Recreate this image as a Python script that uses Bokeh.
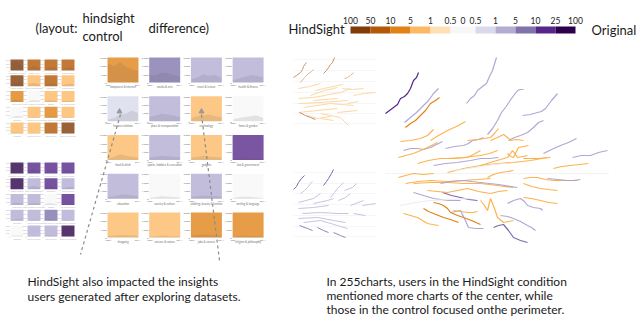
from bokeh.plotting import figure
from bokeh.models import Range1d
from bokeh.embed import file_html
from bokeh.resources import INLINE
from bokeh.core.properties import value

FONT = "Lato"
PUOR = ["#7f3b08", "#b35806", "#e08214", "#fdb863", "#fee0b6", "#f7f7f7",
        "#d8daeb", "#b2abd2", "#8073ac", "#542788", "#2d004b"]
legend_labels = ["100", "50", "10", "5", "1", "0.5", "0", "0.5", "1", "5", "10", "25", "100"]

categories = ["computers & internet", "media & arts", "travel & leisure", "health & fitness",
              "human relations", "place & transportation", "technology", "home & garden",
              "food & drink", "sports, hobbies & recreation", "gadgets", "law & government",
              "education", "society & culture", "clothing, beauty & fashion", "writing & language",
              "shopping", "science & nature", "jobs & careers", "religion & philosophy"]
diff_levels = [2, 8, 7, 7, 6, 7, 3, 5, 3, 7, 3, 9, 7, 5, 7, 5, 3, 3, 2, 2]
hind_levels = [0, 1, 1, 1, 0, 3, 1, 3, 2, 5, 3, 3, 5, 3, 2, 3, 3, 3, 1, 0]
ctrl_levels = [10, 9, 9, 9, 10, 7, 9, 7, 7, 7, 5, 9, 7, 7, 8, 7, 5, 7, 7, 10]
profiles = [
    [2250, 1950, 2450, 1900, 1600, 1400], [900, 850, 1200, 1100, 900, 750],
    [400, 600, 1000, 800, 900, 500], [300, 500, 700, 900, 800, 600],
    [200, 400, 800, 900, 1300, 1000], [500, 700, 900, 800, 700, 500],
    [400, 600, 700, 800, 600, 500], [200, 400, 500, 600, 700, 400],
    [200, 400, 700, 500, 400, 300], [300, 400, 500, 450, 400, 350],
    [300, 400, 500, 400, 350, 300], [150, 250, 300, 250, 200, 150],
    [200, 300, 450, 500, 400, 300], [100, 200, 300, 250, 200, 150],
    [200, 300, 400, 350, 300, 250], [100, 200, 250, 200, 150, 100],
    [150, 250, 300, 280, 250, 200], [100, 150, 200, 180, 150, 120],
    [200, 300, 350, 300, 250, 200], [100, 150, 200, 180, 150, 120],
]
years = ["2004", "2014"]
yticks = ["3,000", "2,000", "1,000", "0"]
ymax = 3000

# big panel series: (style, xs, ys)
big_lines = [
    ("P", [385, 389, 393, 397, 400, 404, 407, 410, 413, 416, 418], [113, 110, 107, 104, 98, 96, 93, 88, 80, 77, 72]),
    ("L", [404, 410, 416, 423, 428, 433, 436, 438], [122, 117, 112, 105, 100, 93, 90, 88]),
    ("D", [405, 410, 415, 420, 425, 430, 435, 439], [127, 123, 120, 115, 110, 103, 100, 97]),
    ("L", [466, 470, 474, 477, 482, 486, 489, 492, 496], [103, 98, 95, 90, 86, 83, 76, 70, 57]),
    ("L", [487, 492, 497, 501, 505, 511, 517, 520, 523], [134, 128, 120, 112, 107, 98, 90, 89, 89]),
    ("L", [522, 530, 537, 541, 545, 551, 557], [115, 114, 112, 111, 108, 100, 93]),
    ("L", [508, 514, 520, 527, 533, 538, 543], [140, 137, 135, 132, 127, 122, 120]),
    ("O", [400, 410, 420, 427, 433], [141, 140, 138, 135, 129]),
    ("O", [430, 438, 447, 456, 465], [140, 135, 130, 126, 121]),
    ("L", [403, 410, 417, 423, 430, 436, 442], [150, 148, 148, 149, 147, 144, 141]),
    ("O", [398, 405, 413, 425, 437], [157, 155, 153, 148, 142]),
    ("L", [445, 454, 463, 468, 472, 478, 483], [148, 146, 145, 143, 140, 139, 137]),
    ("O", [467, 478, 490, 494, 498], [140, 139, 137, 133, 128]),
    ("O", [490, 497, 503, 507, 510, 516, 523], [140, 137, 134, 137, 140, 139, 140]),
    ("O", [507, 510, 513, 516, 518, 523, 528], [153, 156, 157, 151, 147, 146, 145]),
    ("L", [543, 551, 560, 568, 576], [153, 149, 145, 142, 138]),
    ("L", [572, 581, 590, 598, 607], [157, 155, 155, 152, 150]),
    ("O", [447, 463, 480, 489, 497], [158, 157, 155, 153, 150]),
    ("O", [523, 537, 550], [158, 158, 157]),
    ("O", [417, 428, 440, 453, 467, 473, 480], [163, 160, 158, 158, 157, 154, 150]),
    ("L", [433, 445, 457, 463, 470, 475, 480, 489, 498], [165, 163, 162, 161, 160, 159, 158, 158, 157]),
    ("O", [447, 463, 480, 497, 513, 530, 547], [172, 168, 165, 163, 162, 160, 157]),
    ("O", [480, 493, 507, 510, 512, 515, 517, 522, 527], [165, 161, 157, 153, 150, 154, 157, 156, 155]),
    ("O", [553, 561, 570, 579, 588], [168, 166, 165, 164, 163]),
    ("O", [398, 405, 413, 423, 433], [177, 175, 173, 174, 173]),
    ("O", [405, 418, 430, 447, 463, 477, 490], [183, 181, 180, 181, 180, 179, 178]),
    ("O", [487, 493, 500, 507, 513], [177, 174, 172, 171, 170]),
    ("O", [523, 530, 537, 545, 553, 565, 577], [178, 177, 177, 179, 180, 180, 180]),
    ("L", [547, 557, 567, 573, 580], [178, 179, 180, 180, 179]),
    ("O", [523, 531, 540, 548, 557], [183, 186, 188, 189, 190]),
    ("L", [413, 423, 433, 440, 447, 453, 460], [192, 195, 198, 199, 200, 200, 200]),
    ("M", [442, 451, 460, 468, 477], [192, 195, 197, 199, 200]),
    ("O", [427, 437, 447, 457, 467, 478, 490, 498, 507], [190, 191, 192, 190, 188, 191, 193, 191, 190]),
    ("O", [413, 430, 447, 463, 480, 497, 513], [183, 182, 182, 183, 183, 185, 187]),
    ("L", [440, 451, 463, 471, 480, 498, 517], [183, 181, 180, 181, 182, 184, 187]),
    ("D", [433, 438, 443, 447, 450, 457, 463, 471, 480], [202, 203, 205, 208, 212, 215, 217, 220, 224]),
    ("D", [423, 428, 433, 438, 443, 450, 458], [208, 211, 213, 215, 217, 219, 222]),
    ("O", [403, 410, 417, 422, 427, 432, 438], [213, 215, 217, 220, 223, 224, 225]),
    ("L", [450, 455, 460, 464, 468, 475, 483], [212, 211, 210, 218, 227, 228, 228]),
    ("O", [480, 484, 487, 490, 494, 497, 503, 508, 513], [200, 205, 210, 198, 208, 217, 222, 221, 220]),
    ("L", [500, 507, 513, 520, 527, 531, 535], [215, 216, 218, 221, 225, 227, 230]),
    ("M", [493, 498, 503, 508, 513, 520, 527], [227, 225, 224, 230, 237, 240, 242]),
    ("L", [507, 513, 520, 524, 527, 533, 540, 542], [203, 200, 198, 201, 205, 207, 208, 210]),
    ("O", [523, 531, 540, 548, 557], [197, 198, 200, 202, 203]),
    ("O", [453, 460, 467, 472, 477], [210, 211, 212, 212, 211]),
    ("G", [400, 415, 430, 450, 470], [205, 202, 200, 199, 198]),
    ("G", [455, 468, 480, 493, 505], [170, 168, 166, 164, 163]),
]
hind_lines = [
    ("B", [293, 296, 300, 302, 303, 306], [77, 75, 72, 69, 66, 62]),
    ("B", [323, 326, 328, 330, 332, 334], [73, 70, 67, 64, 62, 57]),
    ("T", [300, 304, 308, 311, 313], [82, 77, 73, 71, 69]),
    ("T", [344, 347, 350, 353], [78, 77, 75, 72]),
    ("O", [298, 309, 320], [88, 86, 83]),
    ("O", [310, 324, 337], [95, 90, 87]),
    ("O", [315, 328, 342], [90, 87, 84]),
    ("O", [342, 352, 363], [88, 89, 88]),
    ("O", [353, 364, 375], [95, 93, 92]),
    ("O", [298, 312, 325], [98, 97, 95]),
    ("O", [298, 320, 347], [103, 102, 100]),
    ("O", [303, 330, 353], [107, 103, 105]),
    ("O", [347, 358], [103, 101]),
    ("O", [298, 317, 337], [112, 110, 108]),
    ("O", [307, 317, 330], [115, 118, 116]),
    ("O", [320, 340, 348], [113, 117, 125]),
    ("O", [320, 333], [118, 120]),
    ("O", [337, 357], [112, 110]),
    ("O", [323, 340, 350], [95, 92, 88]),
    ("O", [313, 337], [100, 98]),
    ("B", [299, 305, 310, 315], [112, 115, 117, 119]),
]
ctrl_lines = [
    ("P", [293, 296, 298, 301, 304], [189, 186, 182, 178, 175]),
    ("P", [323, 326, 328, 331, 333], [185, 181, 178, 173, 169]),
    ("L", [300, 304, 307, 310, 312], [193, 190, 187, 183, 181]),
    ("L", [330, 334, 337, 340, 343], [197, 192, 188, 185, 182]),
    ("L", [344, 352, 356], [190, 187, 183]),
    ("L", [298, 313, 320], [202, 198, 193]),
    ("L", [313, 327, 333], [203, 200, 198]),
    ("L", [338, 345, 350], [200, 197, 193]),
    ("L", [350, 363], [205, 200]),
    ("L", [362, 375], [205, 203]),
    ("L", [298, 313, 328], [208, 207, 205]),
    ("L", [302, 320, 337, 348], [213, 212, 213, 213]),
    ("L", [298, 317, 333, 345], [218, 217, 220, 222]),
    ("L", [303, 320, 337, 347], [222, 220, 225, 228]),
    ("L", [353, 365], [213, 215]),
    ("M", [299, 307, 312], [225, 228, 230]),
    ("M", [317, 323, 328], [227, 230, 232]),
    ("M", [333, 340, 345], [232, 235, 237]),
]

big_style = {"P": ("#542788", 1.0), "L": ("#a99dd0", 0.9), "D": ("#e08214", 1.0),
             "O": ("#fdae45", 0.95), "M": ("#7b6aae", 1.0), "G": ("#ececec", 1.0)}
hind_style = {"B": ("#c8926a", 1.0), "T": ("#e9b487", 1.0), "O": ("#fdd7a3", 1.0)}
ctrl_style = {"P": ("#7b67b0", 1.0), "L": ("#c8c2e2", 1.0), "M": ("#9185c0", 1.0)}

p = figure(width=640, height=320, x_range=Range1d(0, 640), y_range=Range1d(320, 0),
           output_backend="svg", toolbar_location=None, min_border=0)
p.axis.visible = False
p.grid.visible = False
p.outline_line_color = None
p.background_fill_color = "white"


def tile_grid(levels, x0, y0, dx, dy, w, h, alpha, fs_tick, fs_cat, show_years, tcol):
    L, R, T, B, C = [], [], [], [], []
    pxs, pys = [], []
    tx, ty, tt = [], [], []
    ex, ey, et = [], [], []
    cx, cy, ct = [], [], []
    for i, lev in enumerate(levels):
        r, c = divmod(i, 4)
        left = x0 + c * dx
        top = y0 + r * dy
        L.append(left); R.append(left + w); T.append(top); B.append(top + h)
        C.append(PUOR[lev])
        prof = profiles[i]
        n = len(prof)
        xs = [left + 0.5 + k * (w - 1) / (n - 1) for k in range(n)]
        ys = [top + h - v / ymax * h for v in prof]
        pxs.append([left + 0.5] + xs + [left + w - 0.5])
        pys.append([top + h] + ys + [top + h])
        for k, lab in enumerate(yticks):
            tx.append(left - 0.8); ty.append(top + k * h / 3); tt.append(lab)
        if show_years:
            ex += [left + 1, left + w - 1]; ey += [top + h + 1.8] * 2; et += years
        cx.append(left + w / 2); cy.append(top + h + (4.6 if show_years else 2.2))
        ct.append(categories[i])
    p.quad(left=L, right=R, top=T, bottom=B, fill_color=C, fill_alpha=alpha, line_color=None)
    p.patches(pxs, pys, fill_color="#4a4a4a", fill_alpha=0.13, line_color=None)
    p.text(tx, ty, text=tt, text_font=value(FONT), text_font_size=f"{fs_tick}px",
           text_color=tcol, text_align="right", text_baseline="middle")
    if show_years:
        p.text(ex, ey, text=et, text_font=value(FONT), text_font_size=f"{fs_tick}px",
               text_color=tcol, text_align="center", text_baseline="middle")
    p.text(cx, cy, text=ct, text_font=value(FONT), text_font_size=f"{fs_cat}px",
           text_color=tcol, text_align="center", text_baseline="middle")


tile_grid(hind_levels, 10, 59, 17, 15.75, 13, 11, 0.8, 1.6, 1.8, False, "#b5b5b5")
tile_grid(ctrl_levels, 10, 162, 17, 15.75, 13, 11, 0.8, 1.6, 1.8, False, "#b5b5b5")
tile_grid(diff_levels, 107, 57, 41.7, 38.75, 31, 25, 0.78, 2.6, 2.8, True, "#707070")

# dashed pointers
p.line([120, 80], [114, 254], line_color="#8a8a8a", line_width=1.2, line_dash="3 3")
p.line([201, 219], [114, 260], line_color="#8a8a8a", line_width=1.2, line_dash="3 3")
p.scatter([119, 201], [111, 111], marker="triangle", size=5, fill_color="#9a9a9a",
          line_color="#9a9a9a")

# panel gridlines
for gy in [59, 70, 81, 92, 103, 113, 123]:
    p.line([293, 376], [gy, gy], line_color="#f6f6f6", line_width=1)
for gy in [172, 183, 193, 204, 215, 226, 236]:
    p.line([293, 376], [gy, gy], line_color="#f6f6f6", line_width=1)
p.line([385, 608], [173, 173], line_color="#e6e6e6", line_width=1, line_dash="1 1")


def draw_lines(lines, style, width):
    xs = [l[1] for l in lines]
    ys = [l[2] for l in lines]
    cols = [style[l[0]][0] for l in lines]
    alph = [style[l[0]][1] for l in lines]
    p.multi_line(xs, ys, line_color=cols, line_alpha=alph, line_width=width)


draw_lines(hind_lines, hind_style, 1.0)
draw_lines(ctrl_lines, ctrl_style, 1.0)
draw_lines(big_lines, big_style, 1.2)

# colour legend
widths = [20] * 5 + [25] + [20] * 5
edges = [350]
for wd in widths:
    edges.append(edges[-1] + wd)
p.quad(left=edges[:-1], right=edges[1:], top=[26] * 11, bottom=[33] * 11,
       fill_color=PUOR, line_color=None)
lab_x = edges[:6] + [(edges[5] + edges[6]) / 2] + edges[6:]
p.text(lab_x, [20] * len(lab_x), text=legend_labels, text_font=value(FONT),
       text_font_size="8.5px", text_color="#222222", text_align="center", text_baseline="middle")

# titles and notes
tx = [35, 82, 82, 148, 288, 591]
ty = [27, 17, 35, 27, 28, 29]
tt = ["(layout:", "hindsight", "control", "difference)", "HindSight", "Original"]
p.text(tx, ty, text=tt, text_font=value(FONT), text_font_size="13px",
       text_color="#1a1a1a", text_align="left", text_baseline="middle")

notes_left = ["HindSight also impacted the insights", "users generated after exploring datasets."]
notes_right = ["In 255charts, users in the HindSight condition",
               "mentioned more charts of the center, while",
               "those in the control focused onthe perimeter."]
p.text([27, 27], [281, 296], text=notes_left, text_font=value(FONT), text_font_size="12px",
       text_color="#1a1a1a", text_align="left", text_baseline="middle")
p.text([326, 326, 326], [281, 295, 309], text=notes_right, text_font=value(FONT),
       text_font_size="12px", text_color="#1a1a1a", text_align="left", text_baseline="middle")

open("out.html", "w").write(file_html(p, INLINE))
